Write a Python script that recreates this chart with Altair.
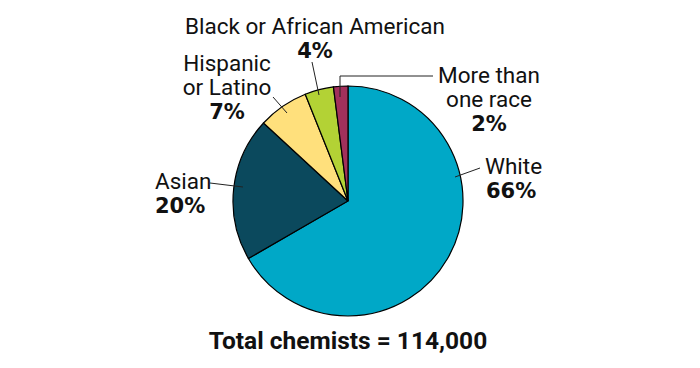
import altair as alt
import pandas as pd

# Data
groups = ["White", "Asian", "Hispanic or Latino", "Black or African American", "More than one race"]
shares = [66, 20, 7, 4, 2]
colors = ["#00A8C7", "#0B495D", "#FFE07C", "#B3D235", "#A2305B"]
total_text = "Total chemists = 114,000"

# Label lines
label_lines = ["Black or African American", "4%", "Hispanic", "or Latino", "7%",
               "More than", "one race", "2%", "Asian", "20%", "White", "66%"]
label_bold = [0, 1, 0, 0, 1, 0, 0, 1, 0, 1, 0, 1]

# Layout (pixels relative to pie centre, y downward)
CX, CY = 340, 193
W, H = 680, 350
R = 115
label_pos = [(-33, -174, 0), (-33, -149, 0),
             (-121, -137, 0), (-121, -113, 0), (-121, -88, 0),
             (141, -125, 0), (141, -101, 0), (141, -76, 0),
             (-193, -19, 1), (-193, 6, 1),
             (137, -34, 1), (138, -9, 1)]
leaders = [(-36, -139, -29, -106), (-75, -104, -61, -88),
           (-8, -125, 85, -125), (-8, -125, -8, -104),
           (-138, -18, -105, -14), (132, -33, 107, -24)]

pie_df = pd.DataFrame({"group": groups, "share": shares, "order": list(range(len(groups)))})
lab_df = pd.DataFrame({
    "text": label_lines,
    "bold": label_bold,
    "x": [p[0] for p in label_pos],
    "y": [p[1] for p in label_pos],
    "left": [p[2] for p in label_pos],
})
lead_df = pd.DataFrame(leaders, columns=["x", "y", "x2", "y2"])
tot_df = pd.DataFrame({"text": [total_text], "x": [0], "y": [141]})

xs = alt.Scale(domain=[-CX, W - CX], range=[0, W])
ys = alt.Scale(domain=[-CY, H - CY], range=[0, H])

pie = alt.Chart(pie_df).mark_arc(outerRadius=R, stroke="black", strokeWidth=1.2).encode(
    theta=alt.Theta("share:Q", stack=True),
    order=alt.Order("order:Q"),
    color=alt.Color("group:N", scale=alt.Scale(domain=groups, range=colors), legend=None),
    x=alt.value(CX), y=alt.value(CY),
)

lead = alt.Chart(lead_df).mark_rule(color="#222222", strokeWidth=1).encode(
    x=alt.X("x:Q", scale=xs, axis=None), y=alt.Y("y:Q", scale=ys, axis=None),
    x2="x2:Q", y2="y2:Q",
)

def text_layer(bold, left):
    return alt.Chart(lab_df).transform_filter(
        (alt.datum.bold == bold) & (alt.datum.left == left)
    ).mark_text(
        font="DejaVu Sans" if bold else "Roboto",
        fontSize=21 if bold else 22.5,
        fontWeight="bold" if bold else "normal",
        align="left" if left else "center", baseline="middle", color="#111111",
    ).encode(
        x=alt.X("x:Q", scale=xs, axis=None), y=alt.Y("y:Q", scale=ys, axis=None),
        text=alt.Text("text:N"),
    )

texts = [text_layer(b, l) for b in [0, 1] for l in [0, 1]]

total = alt.Chart(tot_df).mark_text(
    font="Roboto", fontSize=24.5, fontWeight="bold", align="center", baseline="middle", color="#111111"
).encode(x=alt.X("x:Q", scale=xs, axis=None), y=alt.Y("y:Q", scale=ys, axis=None), text="text:N")

chart = alt.layer(pie, lead, *texts, total).properties(
    width=W, height=H, padding=0, autosize=alt.AutoSizeParams(type="none")
).configure(background="white").configure_view(strokeWidth=0, stroke="transparent")

chart.save("out.html", embed_options={"renderer": "svg", "actions": False})
